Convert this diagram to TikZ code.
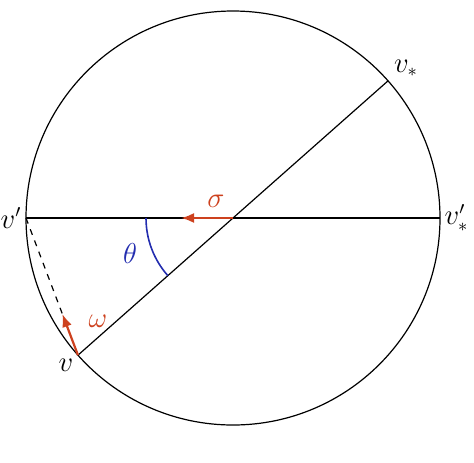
\documentclass[tikz,border=0pt]{standalone}
\usepackage{amsmath}
\usepackage{xcolor}
\usetikzlibrary{arrows.meta,calc}
\definecolor{vecred}{RGB}{205,65,30}
\definecolor{angblue}{RGB}{35,45,175}
\begin{document}
\begin{tikzpicture}[x=0.5pt,y=0.5pt,line width=0.6pt,
  every node/.style={font=\fontsize{13.5}{16}\selectfont},
  vecarrow/.style={color=vecred,line width=1.1pt,-{Latex[length=6.5pt,width=5pt]}}]
\useasboundingbox (0,0) rectangle (474,462);
% Drawing the sphere
\coordinate (O) at (233,244);
\draw (O) circle (207);
\coordinate (vp) at ($(O)+(180:207)$);
\coordinate (vps) at ($(O)+(0:207)$);
\coordinate (v) at ($(O)+(221.5:207)$);
\coordinate (vs) at ($(O)+(41.5:207)$);
% Drawing diameters
\draw (vp) -- (vps);
\draw (v) -- (vs);
% Angle theta
\draw[color=angblue,line width=0.8pt] ($(O)+(180:87)$) arc (180:221.5:87);
\node[color=angblue] (theta) at (130,209) {$\theta$};
% Vectors sigma and omega
\coordinate (sigtip) at ($(O)+(-52,0)$);
\draw[vecarrow] (O) -- (sigtip);
\node[color=vecred] (sigma) at (216,261) {$\sigma$};
\coordinate (omtip) at ($(v)!0.3!(vp)$);
\draw[dashed] (vp) -- (omtip);
\draw[vecarrow] (v) -- (omtip);
\node[color=vecred] (omega) at (98,141) {$\omega$};
% Ending labels
\node[left,inner sep=2pt] (lvp) at (vp) {$v'$};
\node[right,inner sep=2pt] (lvps) at (vps) {$v'_*$};
\node (lv) at (66,97) {$v$};
\node (lvs) at (406,394) {$v_*$};
\end{tikzpicture}
\end{document}
